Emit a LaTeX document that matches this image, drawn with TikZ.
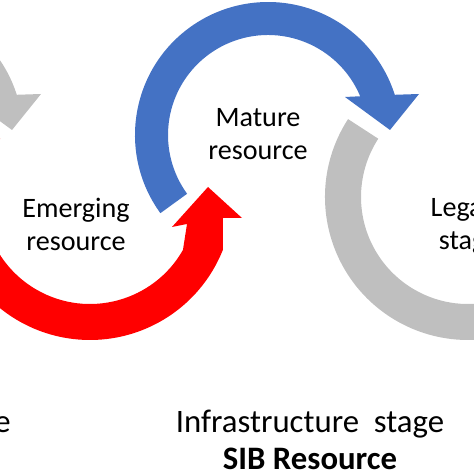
\documentclass[tikz,border=0pt]{standalone}
\usepackage{fontspec}
\setmainfont{Carlito}
\usepackage{xcolor}
\usepackage{tikz}
\definecolor{StageRed}{HTML}{FF0000}
\definecolor{StageBlue}{HTML}{4472C4}
\definecolor{StageGray}{HTML}{BFBFBF}

\begin{document}
\begin{tikzpicture}[
  x=0.025cm, y=0.025cm,
  label/.style={inner sep=0pt, align=center, text=black,
    font=\fontsize{20}{24}\selectfont},
  stagelabel/.style={inner sep=0pt, text=black,
    font=\fontsize{23.3}{28}\selectfont},
  lowerarrow/.style={draw=none},
  upperarrow/.style={draw=none}
]

\useasboundingbox (0,0) rectangle (474,474);
\clip (0,0) rectangle (474,474);

% Gray arrow at the top left (previous turn)
\begin{scope}[shift={(-110,339)}]
  \fill[upperarrow, StageGray] (216:133) arc[start angle=216, end angle=17.6, radius=133]
    -- (151,41) -- (122,5) -- (77,38) -- (22.8:100)
    arc[start angle=22.8, end angle=216, radius=100] -- cycle;
\end{scope}

% Red arrow (emerging resource)
\begin{scope}[shift={(90,277)}]
  \fill[lowerarrow, StageRed] (147:143) arc[start angle=147, end angle=338.2, radius=143]
    -- (133,-21) -- (152,-21) -- (118,10) -- (82,-30) -- (97,-27) -- (330.3:107)
    arc[start angle=330.3, end angle=147, radius=107] -- cycle;
\end{scope}

% Blue arrow (mature resource)
\begin{scope}[shift={(268,339)}]
  \fill[upperarrow, StageBlue] (216:133) arc[start angle=216, end angle=17.6, radius=133]
    -- (151,41) -- (122,5) -- (77,38) -- (22.8:100)
    arc[start angle=22.8, end angle=216, radius=100] -- cycle;
\end{scope}

% Gray arrow on the right (legacy)
\begin{scope}[shift={(468,277)}]
  \fill[lowerarrow, StageGray] (147:143) arc[start angle=147, end angle=338.2, radius=143]
    -- (133,-21) -- (152,-21) -- (118,10) -- (82,-30) -- (97,-27) -- (330.3:107)
    arc[start angle=330.3, end angle=147, radius=107] -- cycle;
\end{scope}

% Stage labels (base = baseline of the last line)
\node[label, anchor=base] (emerging) at (76,223) {Emerging\\resource};
\node[label, anchor=base] (mature) at (258,314) {Mature\\resource};
\node[label, anchor=base] (legacy) at (469,224) {Legacy\\stage};

% Bottom labels
\node[stagelabel, anchor=base east] (leftstage) at (11,42) {stage};
\node[stagelabel, anchor=base] (infra) at (310,42) {Infrastructure\ \ stage};
\node[stagelabel, anchor=base, font=\fontsize{23.3}{28}\selectfont\bfseries] (sib) at (310,5) {SIB Resource};

\end{tikzpicture}
\end{document}
